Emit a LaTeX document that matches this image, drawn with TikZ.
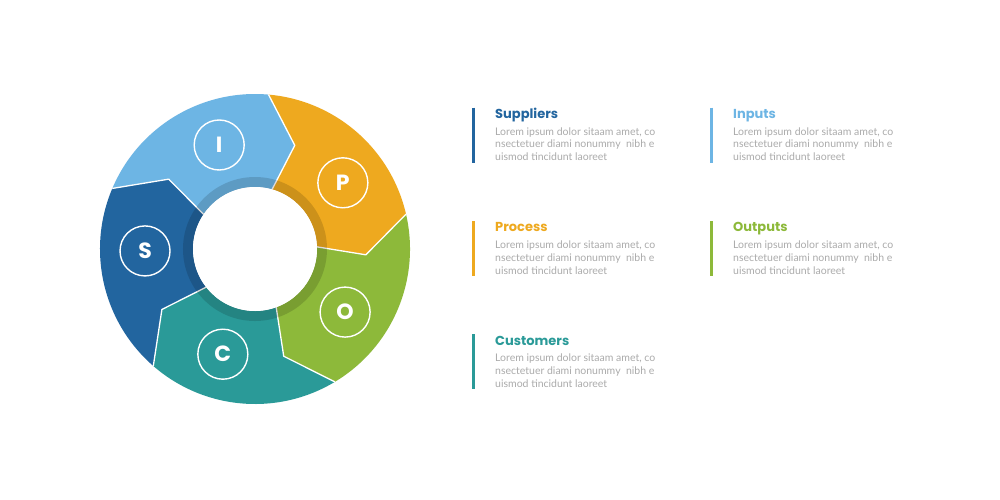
\documentclass[tikz,border=0pt]{standalone}
\usepackage{fontspec}
\setmainfont{Lato}
\newfontfamily\headfont{Poppins}
\usetikzlibrary{calc}

\definecolor{supplierblue}{HTML}{22659F}
\definecolor{inputblue}{HTML}{6DB5E4}
\definecolor{processorange}{HTML}{EEA91F}
\definecolor{outputgreen}{HTML}{8DB93A}
\definecolor{customerteal}{HTML}{2A9A98}
\definecolor{bodygrey}{HTML}{ABABAB}

\newcommand{\loremtext}{Lorem ipsum dolor sitaam amet, co\\nsectetuer diami nonummy\ \ nibh e\\uismod tincidunt laoreet}

\begin{document}
\begin{tikzpicture}[x=1pt, y=1pt]
        % Ring formulae
        \pgfmathsetmacro{\outerrad}{155}
        \pgfmathsetmacro{\innerrad}{62}
        \pgfmathsetmacro{\tiprad}{111}
        \pgfmathsetmacro{\badgerad}{110}

        \tikzset{
            badge/.style={circle, draw=white, line width=1.4pt, minimum size=50pt, inner sep=0pt,
                text=white, font=\headfont\bfseries\fontsize{22}{22}\selectfont},
            title/.style={anchor=base west, inner sep=0pt, font=\headfont\bfseries\fontsize{13}{13}\selectfont},
            % base of a multi-line node is the baseline of its last line
            blurb/.style={anchor=base west, inner sep=0pt, align=left, text=bodygrey,
                font=\fontsize{10.5}{12.8}\selectfont},
            bar/.style={line width=3.5pt},
            seam/.style={white, line width=1.3pt, line join=round},
        }

        % Page size, the ring centre is the origin
        \fill[white] (-255,-250) rectangle (745,249);
        \useasboundingbox (-255,-250) rectangle (745,249);

        % Outer corners of the seams
        \coordinate (O1) at (85:\outerrad);
        \coordinate (O2) at (13:\outerrad);
        \coordinate (O3) at (-59:\outerrad);
        \coordinate (O4) at (-131:\outerrad);
        \coordinate (O5) at (157:\outerrad);
        % Arrow tips
        \coordinate (T1) at (69:\tiprad);
        \coordinate (T2) at (-3:\tiprad);
        \coordinate (T3) at (-75:\tiprad);
        \coordinate (T4) at (-147:\tiprad);
        \coordinate (T5) at (141:\tiprad);
        % Inner corners
        \coordinate (N1) at (74:\innerrad);
        \coordinate (N2) at (2:\innerrad);
        \coordinate (N3) at (-70:\innerrad);
        \coordinate (N4) at (-142:\innerrad);
        \coordinate (N5) at (146:\innerrad);

        % The five arrow pieces
        \fill[inputblue] (O5) arc[start angle=157, end angle=85, radius=\outerrad]
            -- (T1) -- (N1) arc[start angle=74, end angle=146, radius=\innerrad] -- (T5) -- cycle;
        \fill[processorange] (O1) arc[start angle=85, end angle=13, radius=\outerrad]
            -- (T2) -- (N2) arc[start angle=2, end angle=74, radius=\innerrad] -- (T1) -- cycle;
        \fill[outputgreen] (O2) arc[start angle=13, end angle=-59, radius=\outerrad]
            -- (T3) -- (N3) arc[start angle=-70, end angle=2, radius=\innerrad] -- (T2) -- cycle;
        \fill[customerteal] (O3) arc[start angle=-59, end angle=-131, radius=\outerrad]
            -- (T4) -- (N4) arc[start angle=-142, end angle=-70, radius=\innerrad] -- (T3) -- cycle;
        \fill[supplierblue] (O4) arc[start angle=-131, end angle=-203, radius=\outerrad]
            -- (T5) -- (N5) arc[start angle=-214, end angle=-142, radius=\innerrad] -- (T4) -- cycle;

        \begin{scope}[seam]
            \draw (O1) -- (T1) -- (N1);
            \draw (O2) -- (T2) -- (N2);
            \draw (O3) -- (T3) -- (N3);
            \draw (O4) -- (T4) -- (N4);
            \draw (O5) -- (T5) -- (N5);
        \end{scope}

        % Shadow round the hole
        \fill[black, opacity=0.14] (0,0) circle (72);
        \fill[white] (0,0) circle (\innerrad);

        % Letters
        \node[badge] (badgeI) at (109:\badgerad) {I};
        \node[badge] (badgeP) at (37:\badgerad) {P};
        \node[badge] (badgeO) at (-35:\badgerad) {O};
        \node[badge] (badgeC) at (-107:\badgerad) {C};
        \node[badge] (badgeS) at (181:\badgerad) {S};

        % Text blocks
        \node[title, text=supplierblue] (suppliers) at (240,130.7) {Suppliers};
        \node[title, text=inputblue] (inputs) at (478,130.7) {Inputs};
        \node[title, text=processorange] (process) at (240,17.3) {Process};
        \node[title, text=outputgreen] (outputs) at (478,17.3) {Outputs};
        \node[title, text=customerteal] (customers) at (240,-96) {Customers};

        \node[blurb] (suppliers text) at (240,88.4) {\loremtext};
        \node[blurb] (inputs text) at (478,88.4) {\loremtext};
        \node[blurb] (process text) at (240,-25) {\loremtext};
        \node[blurb] (outputs text) at (478,-25) {\loremtext};
        \node[blurb] (customers text) at (240,-138.3) {\loremtext};

        \begin{scope}[bar]
            \draw[supplierblue] ([shift={(-21.5,10.6)}]suppliers.base west) -- ++(0,-55);
            \draw[inputblue] ([shift={(-21.5,10.6)}]inputs.base west) -- ++(0,-55);
            \draw[processorange] ([shift={(-21.5,10.6)}]process.base west) -- ++(0,-55);
            \draw[outputgreen] ([shift={(-21.5,10.6)}]outputs.base west) -- ++(0,-55);
            \draw[customerteal] ([shift={(-21.5,10.6)}]customers.base west) -- ++(0,-55);
        \end{scope}

\end{tikzpicture}
\end{document}
